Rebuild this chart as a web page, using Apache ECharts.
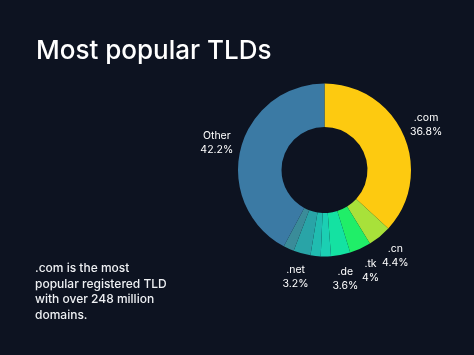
<!DOCTYPE html>
<html>
<head>
<meta charset="utf-8">
<script src="https://cdn.jsdelivr.net/npm/echarts@6/dist/echarts.min.js"></script>
<style>
html,body{margin:0;padding:0;background:#0d1321;}
#chart{width:474px;height:355px;}
</style>
</head>
<body>
<div id="chart"></div>
<script>
// Data
const categories = ['.com', '.cn', '.tk', '.de', '', '', '.net', '', 'Other'];
const shares = [36.8, 4.4, 4, 3.6, 1.9, 1.9, 3.2, 2.0, 42.2];
const sliceColors = ['#fdca10', '#a8e13a', '#20ee68', '#14e2a2', '#1bcfb3', '#20bcb0', '#29a4a7', '#3a8c99', '#3b7aa4'];
const titleText = 'Most popular TLDs';
const noteText = '.com is the most\npopular registered TLD\nwith over 248 million\ndomains.';

const fontFam = 'Inter, "Open Sans", sans-serif';
const chart = echarts.init(document.getElementById('chart'), null, {renderer: 'canvas'});

const mainData = categories.map((c, i) => ({
  name: c || ('_' + i),
  value: shares[i],
  itemStyle: {color: sliceColors[i]}
}));
const labelData = categories.map((c, i) => ({
  name: c || ('_' + i),
  value: shares[i],
  label: {show: !!c}
}));

chart.setOption({
  backgroundColor: '#0d1321',
  animation: false,
  title: [{
    text: titleText,
    left: 31,
    top: 33,
    textStyle: {color: '#ffffff', fontSize: 26, fontWeight: 500, fontFamily: fontFam}
  }, {
    text: noteText,
    left: 30,
    top: 256,
    textStyle: {color: '#eef0f3', fontSize: 12, fontWeight: 500, lineHeight: 15.5, fontFamily: fontFam}
  }],
  series: [{
    type: 'pie',
    center: [324.5, 170],
    radius: [43, 86.5],
    startAngle: 90,
    clockwise: true,
    silent: true,
    label: {show: false},
    labelLine: {show: false},
    itemStyle: {borderWidth: 0},
    data: mainData
  }, {
    type: 'pie',
    center: [324.5, 170],
    radius: [94, 122],
    startAngle: 90,
    clockwise: true,
    silent: true,
    itemStyle: {color: 'rgba(0,0,0,0)'},
    labelLine: {show: false},
    label: {
      position: 'inside',
      formatter: '{b}\n{c}%',
      color: '#ffffff',
      fontSize: 10.5,
      lineHeight: 14,
      fontFamily: fontFam,
      align: 'center'
    },
    data: labelData
  }]
});
</script>
</body>
</html>
